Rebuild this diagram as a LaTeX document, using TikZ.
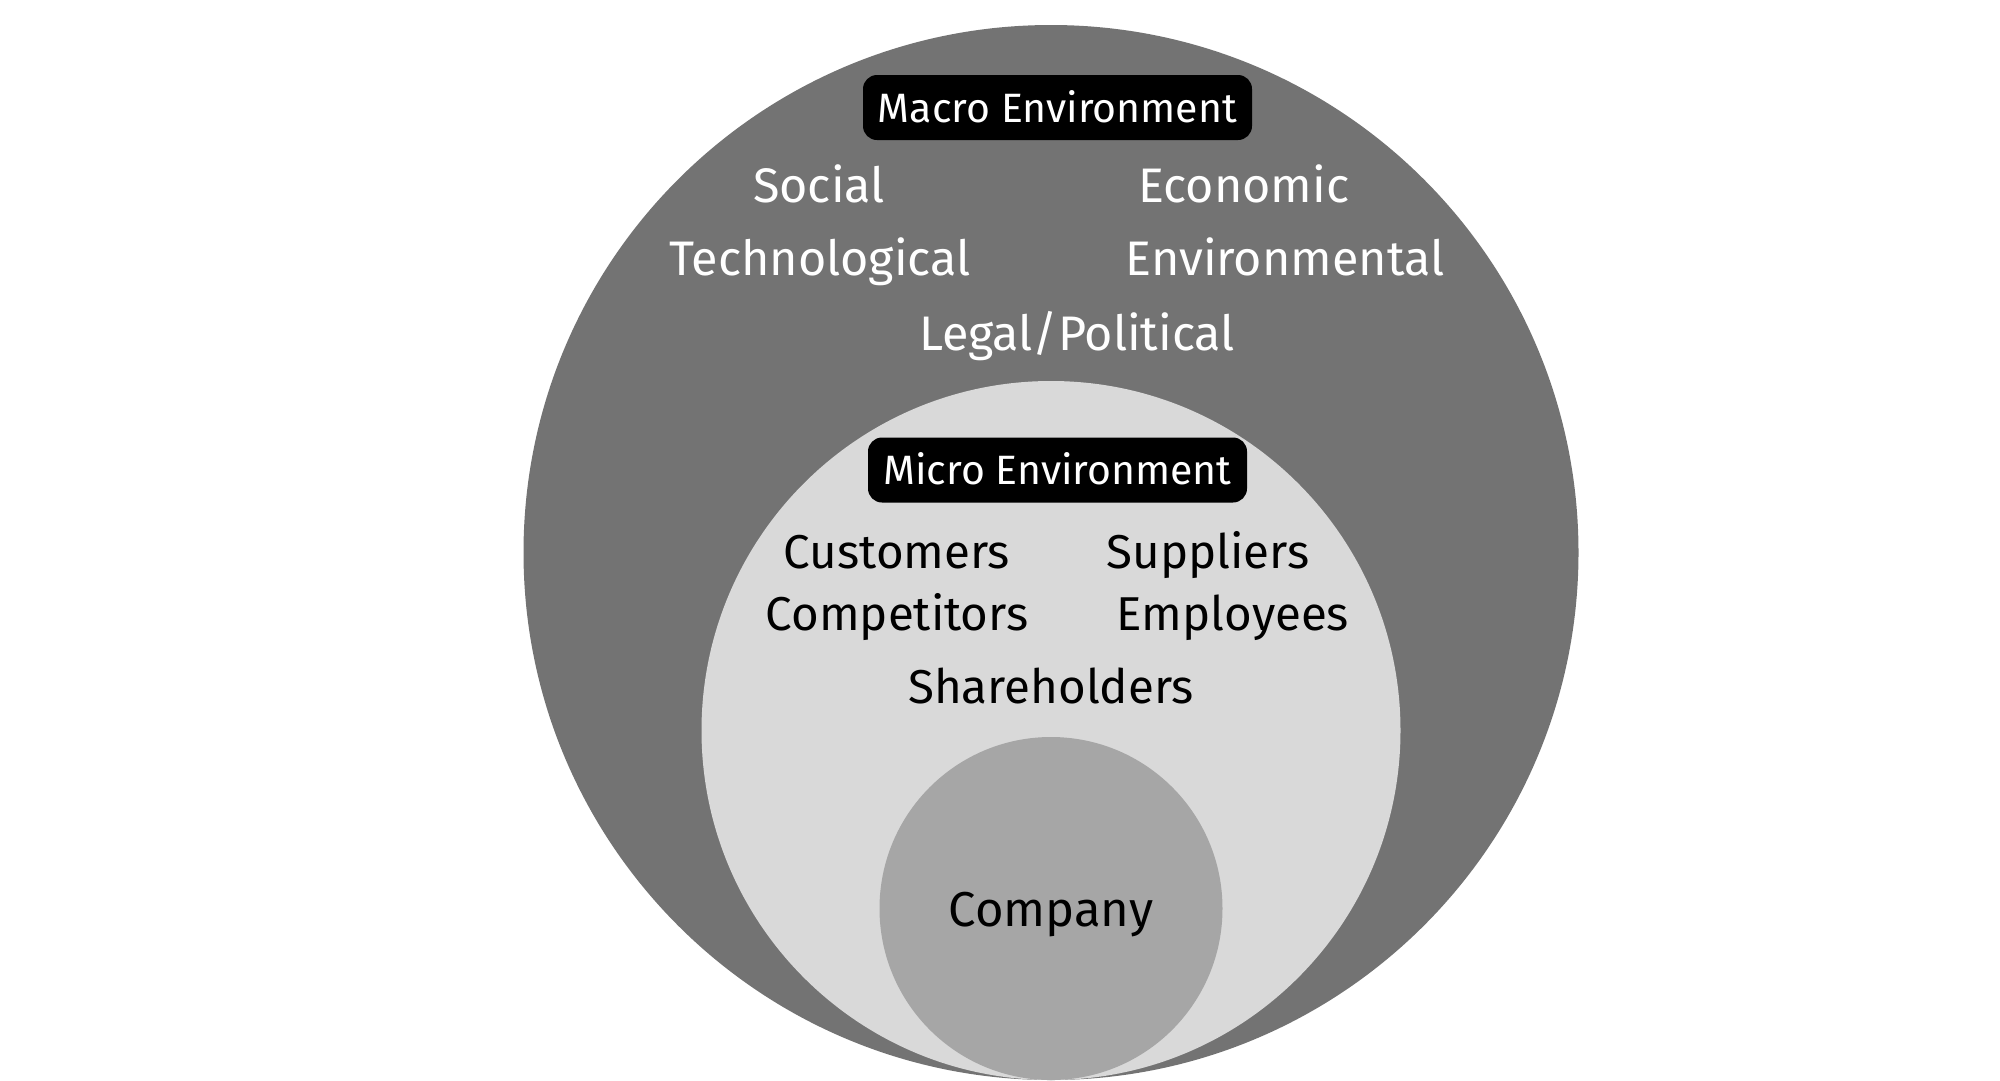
\documentclass[tikz,border=0pt]{standalone}
\usepackage{fontspec}
\setmainfont{Fira Sans}
\definecolor{outerg}{HTML}{737373}
\definecolor{microg}{HTML}{D9D9D9}
\definecolor{compg}{HTML}{A6A6A6}
\begin{document}
\begin{tikzpicture}[x=1pt,y=-1pt,
  macrotxt/.style={text=white,font=\fontsize{48.5}{54}\selectfont,anchor=base,inner sep=0pt},
  microtxt/.style={text=black,font=\fontsize{47.5}{53}\selectfont,anchor=base,inner sep=0pt},
  tagbox/.style={fill=black,text=white,rounded corners=14pt,font=\fontsize{41}{46}\selectfont,
    minimum height=65pt,inner sep=0pt,text height=29pt,text depth=0pt}]
\useasboundingbox (0,0) rectangle (2000,1080);
\fill[outerg] (1051,552.5) circle[radius=527.5pt];
\fill[microg] (1051,730.5) circle[radius=349.5pt];
\fill[compg] (1051,908.5) circle[radius=171.5pt];

\node[tagbox,minimum width=389pt] (macro) at (1057.5,107.5) {Macro Environment};
\node[macrotxt] (social) at (819,202) {Social};
\node[macrotxt] (econ) at (1244,202) {Economic};
\node[macrotxt] (tech) at (820,275) {Technological};
\node[macrotxt] (envir) at (1285,275) {Environmental};
\node[macrotxt] (legal) at (1077,350) {Legal/Political};

\node[tagbox,minimum width=379pt] (micro) at (1057.5,470) {Micro Environment};
\node[microtxt] (cust) at (897,568) {Customers};
\node[microtxt] (supp) at (1208,568) {Suppliers};
\node[microtxt] (comp) at (897,630) {Competitors};
\node[microtxt] (empl) at (1233,630) {Employees};
\node[microtxt] (share) at (1051,703) {Shareholders};
\node[microtxt,font=\fontsize{49}{54}\selectfont] (company) at (1051,926) {Company};
\end{tikzpicture}
\end{document}
